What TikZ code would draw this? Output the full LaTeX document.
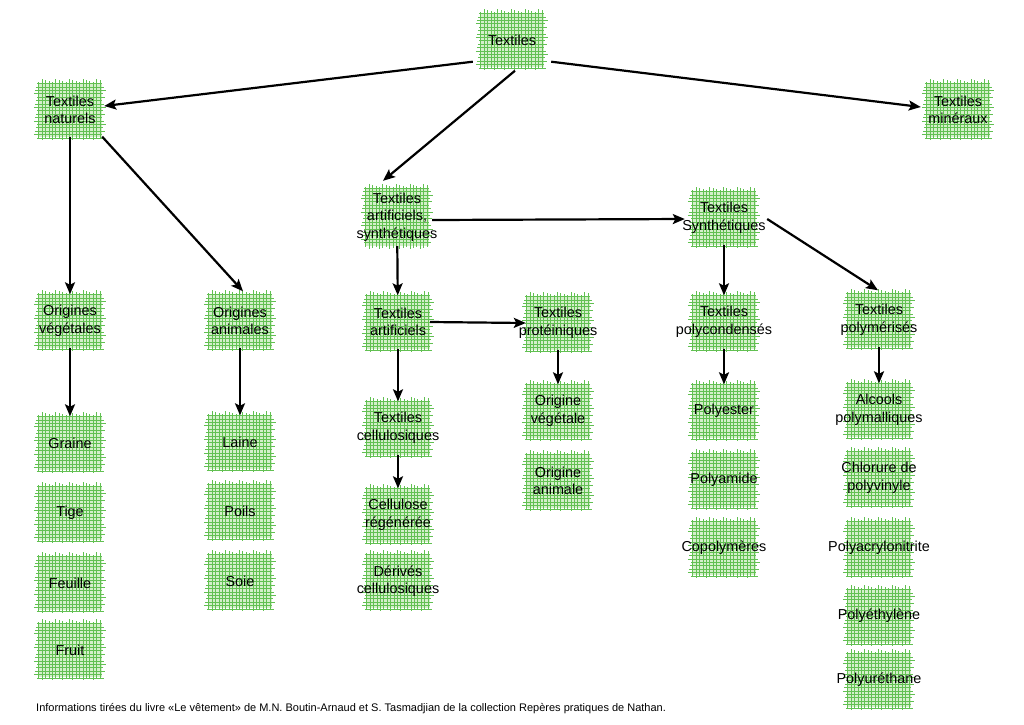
\documentclass[tikz,border=0pt]{standalone}
\usepackage{fontspec}
\setmainfont{Liberation Sans}
\usetikzlibrary{arrows.meta}
\definecolor{patchbg}{RGB}{212,239,202}
\definecolor{patchln}{RGB}{98,192,82}
\newcommand\boxfont{\fontsize{14.4}{17.5}\selectfont}
\newcommand\footfont{\fontsize{11}{13}\selectfont}
\tikzset{
  patch/.style={rectangle, minimum width=64pt, minimum height=53pt, inner sep=0pt, fill=patchbg},
  weave/.style={patchln, line width=0.9pt},
  lab/.style={align=center, font=\boxfont, text=black, inner sep=0pt},
  arr/.style={-{Stealth[length=12pt,width=10pt,inset=2.5pt]}, line width=2.2pt, black},
}
\newcommand\tbox[5][]{%
  \node[patch,#1] (#2) at (#3,#4) {};
  \foreach \k in {0,...,16} {
    \draw[weave] ([xshift={-mod(\k*5,4)*1pt-1pt}, yshift=-\k*3.4pt-0.4pt]#2.north west) -- ([xshift={mod(\k*7,5)*1pt}, yshift=-\k*3.4pt-0.4pt]#2.north east);
  }
  \foreach \k in {0,...,18} {
    \draw[weave] ([xshift=\k*3.4pt+1pt, yshift={mod(\k*3,4)*1pt+1pt}]#2.north west) -- ([xshift=\k*3.4pt+1pt, yshift={-mod(\k*5,3)*1pt-1pt}]#2.south west);
  }
  \node[lab] (#2t) at (#2) {#5};
}
\begin{document}
\begin{tikzpicture}[x=1pt,y=-1pt]
\fill[white] (0,0) rectangle (1024,724);
\useasboundingbox (0,0) rectangle (1024,724);

\tbox{tex}{512}{40}{Textiles}
\tbox{nat}{70}{110}{Textiles\\naturels}
\tbox{min}{958}{110}{Textiles\\minéraux}
\tbox[minimum height=58pt]{as}{397}{217}{Textiles\\artificiels,\\synthétiques}
\tbox{syn}{724}{218}{Textiles\\Synthétiques}

\tbox{ov}{70}{321}{Origines\\végétales}
\tbox{oa}{240}{321}{Origines\\animales}
\tbox{ta}{398}{322}{Textiles\\artificiels}
\tbox{tp}{558}{323}{Textiles\\protéiniques}
\tbox{tpc}{724}{322}{Textiles\\polycondensés}
\tbox{tpm}{879}{320}{Textiles\\polymérisés}

\tbox{gr}{70}{443}{Graine}
\tbox{ti}{70}{513}{Tige}
\tbox{fe}{70}{583}{Feuille}
\tbox{fr}{70}{650}{Fruit}

\tbox{la}{240}{442}{Laine}
\tbox{po}{240}{511}{Poils}
\tbox{so}{240}{581}{Soie}

\tbox{tc}{398}{428}{Textiles\\cellulosiques}
\tbox{cr}{398}{515}{Cellulose\\régénérée}
\tbox{dc}{398}{581}{Dérivés\\cellulosiques}

\tbox{ovg}{558}{411}{Origine\\végétale}
\tbox{oan}{558}{481}{Origine\\animale}

\tbox{pe}{724}{411}{Polyester}
\tbox{pa}{724}{480}{Polyamide}
\tbox{co}{724}{548}{Copolymères}

\tbox{al}{879}{410}{Alcools\\polymalliques}
\tbox{ch}{879}{478}{Chlorure de\\polyvinyle}
\tbox{pac}{879}{548}{Polyacrylonitrite}
\tbox{pet}{879}{616}{Polyéthylène}
\tbox{pu}{879}{680}{Polyuréthane}

\node[anchor=west, font=\footfont, inner sep=0pt] (foot) at (36,709) {Informations tirées du livre «Le vêtement» de M.N. Boutin-Arnaud et S. Tasmadjian de la collection Repères pratiques de Nathan.};

% connectors
\draw[arr] ([xshift=-7pt,yshift=5pt]tex.south west) -- ([xshift=2pt,yshift=4pt]nat.east);
\draw[arr] ([xshift=7pt,yshift=5pt]tex.south east) -- ([xshift=-5pt,yshift=3pt]min.west);
\draw[arr] ([xshift=3pt,yshift=-4pt]tex.south) -- ([xshift=-14pt,yshift=7pt]as.north);
\draw[arr] (nat) -- (ov);
\draw[arr] (nat.south east) -- ([xshift=3pt,yshift=3pt]oa.north);
\draw[arr] ([xshift=3pt,yshift=-3pt]as.east) -- ([xshift=-7pt,yshift=-1pt]syn.west);
\draw[arr] (as) -- (ta);
\draw[arr] (syn) -- (tpc);
\draw[arr] ([xshift=11pt,yshift=-1pt]syn.east) -- ([xshift=-1pt,yshift=3pt]tpm.north);
\draw[arr] (ov) -- (gr);
\draw[arr] (oa) -- (la);
\draw[arr] (ta.east) -- (tp.west);
\draw[arr] (ta) -- (tc);
\draw[arr] (tc) -- (cr);
\draw[arr] (tp) -- (ovg);
\draw[arr] (tpc) -- (pe);
\draw[arr] (tpm) -- (al);
\end{tikzpicture}
\end{document}
